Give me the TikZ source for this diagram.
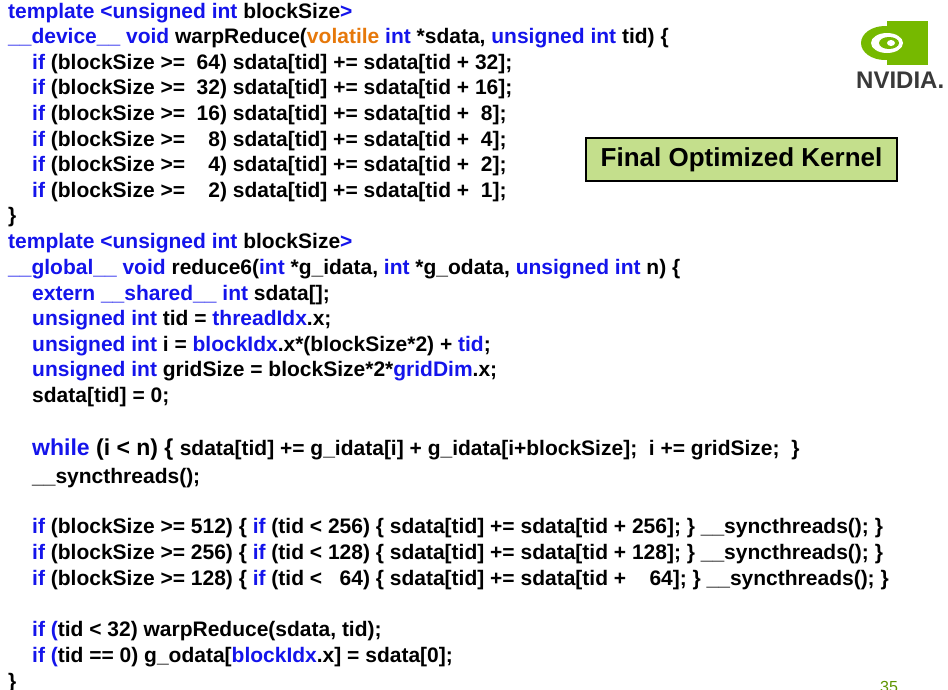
\documentclass[tikz,border=0pt]{standalone}
\usepackage{fontspec}
\setmainfont{Liberation Sans}
\definecolor{kw}{RGB}{20,20,235}
\definecolor{orng}{RGB}{230,120,10}
\definecolor{boxg}{RGB}{196,223,140}
\definecolor{nvg}{RGB}{118,185,0}
\newcommand{\K}[1]{\textcolor{kw}{#1}}
\newcommand{\Orng}[1]{\textcolor{orng}{#1}}
\begin{document}
\begin{tikzpicture}[x=1pt,y=-1pt,
  code/.style={anchor=west,inner sep=0pt,font=\fontsize{21}{21}\selectfont\bfseries},
  bigcode/.style={anchor=west,inner sep=0pt,font=\fontsize{23}{23}\selectfont\bfseries}]
\useasboundingbox (0,0) rectangle (948,689);
\node[code] (l1) at (8,13) {\K{template <unsigned int} blockSize\K{>}};
\node[code] (l2) at (8,38) {\K{\_\_device\_\_ void} warpReduce(\Orng{volatile} \K{int} *sdata, \K{unsigned int} tid) \{};
\node[code] (l3) at (32,64) {\K{if} (blockSize >= ~64) sdata[tid] += sdata[tid + 32];};
\node[code] (l4) at (32,89) {\K{if} (blockSize >= ~32) sdata[tid] += sdata[tid + 16];};
\node[code] (l5) at (32,115) {\K{if} (blockSize >= ~16) sdata[tid] += sdata[tid + ~8];};
\node[code] (l6) at (32,141) {\K{if} (blockSize >= ~~~8) sdata[tid] += sdata[tid + ~4];};
\node[code] (l7) at (32,166) {\K{if} (blockSize >= ~~~4) sdata[tid] += sdata[tid + ~2];};
\node[code] (l8) at (32,192) {\K{if} (blockSize >= ~~~2) sdata[tid] += sdata[tid + ~1];};
\node[code] (l9) at (8,217) {\}};
\node[code] (l10) at (8,243) {\K{template <unsigned int} blockSize\K{>}};
\node[code] (l11) at (8,269) {\K{\_\_global\_\_ void} reduce6(\K{int} *g\_idata, \K{int} *g\_odata, \K{unsigned int} n) \{};
\node[code] (l12) at (32,295) {\K{extern \_\_shared\_\_ int} sdata[];};
\node[code] (l13) at (32,320) {\K{unsigned int} tid = \K{threadIdx}.x;};
\node[code] (l14) at (32,346) {\K{unsigned int} i = \K{blockIdx}.x*(blockSize*2) + \K{tid};};
\node[code] (l15) at (32,371) {\K{unsigned int} gridSize = blockSize*2*\K{gridDim}.x;};
\node[code] (l16) at (32,397) {sdata[tid] = 0;};
\node[bigcode] (l17) at (32,450) {\K{while} (i < n) \{ {\fontsize{21}{21}\selectfont sdata[tid] += g\_idata[i] + g\_idata[i+blockSize]; ~i += gridSize; ~\}}};
\node[code] (l18) at (32,478) {\_\_syncthreads();};
\node[code] (l19) at (32,528) {\K{if} (blockSize >= 512) \{ \K{if} (tid < 256) \{ sdata[tid] += sdata[tid + 256]; \} \_\_syncthreads(); \}};
\node[code] (l20) at (32,554) {\K{if} (blockSize >= 256) \{ \K{if} (tid < 128) \{ sdata[tid] += sdata[tid + 128]; \} \_\_syncthreads(); \}};
\node[code] (l21) at (32,580) {\K{if} (blockSize >= 128) \{ \K{if} (tid < ~~64) \{ sdata[tid] += sdata[tid + ~~~64]; \} \_\_syncthreads(); \}};
\node[code] (l22) at (32,631) {\K{if (}tid < 32) warpReduce(sdata, tid);};
\node[code] (l23) at (32,657) {\K{if (}tid == 0) g\_odata[\K{blockIdx}.x] = sdata[0];};
\node[code] (l24) at (8,683) {\}};
% title box
\node[draw=black,line width=2pt,fill=boxg,minimum width=311pt,minimum height=43pt,
  font=\fontsize{26}{26}\selectfont\bfseries] (title) at (741.5,159.5) {Final Optimized Kernel};
% NVIDIA logo
\fill[nvg] (887,21) rectangle (928,65);
\fill[nvg] (885,43) ellipse (24 and 17);
\fill[white] (887,43) ellipse (16 and 10);
\fill[nvg] (889,43) ellipse (10 and 6);
\fill[white] (891,43) ellipse (4 and 3);
\node[anchor=west,inner sep=0pt,text=gray!45!black,font=\fontsize{24}{24}\selectfont\bfseries] (nv) at (856,80) {NVIDIA.};
\node[anchor=north,inner sep=0pt,text=nvg!80!black,font=\fontsize{16}{16}\selectfont] (pg) at (889,681) {35};
\end{tikzpicture}
\end{document}
